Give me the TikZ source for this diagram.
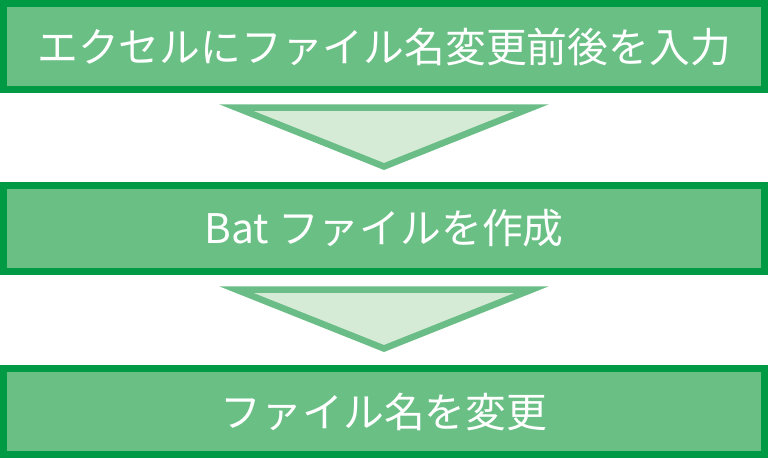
\documentclass[tikz,border=0pt]{standalone}
\usepackage{fontspec}
\newfontfamily\jpfont{Noto Sans CJK JP}
\definecolor{boxfill}{RGB}{106,191,133}
\definecolor{boxline}{RGB}{0,154,68}
\definecolor{trifill}{RGB}{213,235,214}
\definecolor{triline}{RGB}{107,189,135}
\begin{document}
\begin{tikzpicture}[x=1pt,y=-1pt,
  stepbox/.style={draw=boxline, fill=boxfill, line width=7pt, rectangle,
    minimum width=761pt, minimum height=86pt, inner sep=0pt,
    text=white, font=\jpfont\fontsize{40.8}{48}\selectfont},
  arrowtri/.style={draw=triline, fill=trifill, line width=6.5pt}]
\useasboundingbox (0,0) rectangle (768,458);
\node[stepbox] (b1) at (384,46.5) {\raisebox{2pt}{エクセルにファイル名変更前後を入力}};
\node[stepbox] (b2) at (384,228) {\raisebox{2pt}{Bat ファイルを作成}};
\node[stepbox] (b3) at (384,411.5) {\raisebox{2pt}{ファイル名を変更}};
\draw[arrowtri] (236,107.5) -- (532,107.5) -- (384,166.5) -- cycle;
\draw[arrowtri] (236,289.5) -- (532,289.5) -- (384,348.5) -- cycle;
\end{tikzpicture}
\end{document}
